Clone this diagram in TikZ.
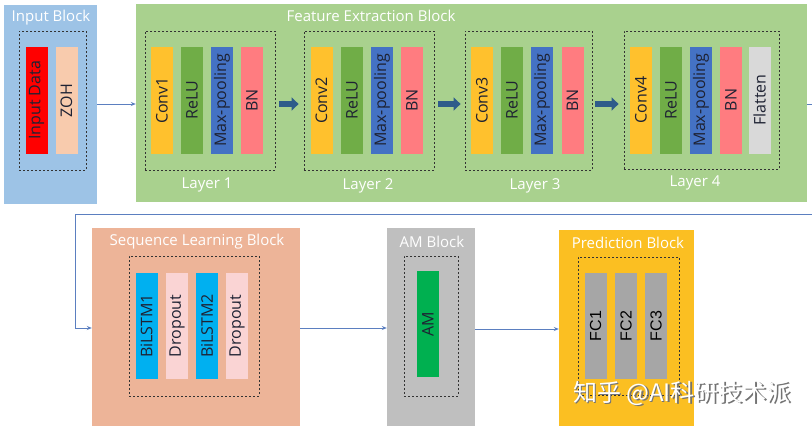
\documentclass[tikz,border=0pt]{standalone}
\usepackage{fontspec}
\setmainfont{Open Sans}
\newfontfamily\cjkfont{Noto Sans CJK SC}
\newfontfamily\fcfont{Liberation Sans}
\usetikzlibrary{arrows.meta}
\definecolor{inblue}{HTML}{9DC3E6}
\definecolor{fegreen}{HTML}{A9D18E}
\definecolor{convY}{HTML}{FFC12D}
\definecolor{reluG}{HTML}{70AD47}
\definecolor{maxB}{HTML}{4472C4}
\definecolor{bnR}{HTML}{FF7C80}
\definecolor{flatG}{HTML}{D9D9D9}
\definecolor{zohP}{HTML}{F8CBAD}
\definecolor{seqS}{HTML}{EDB498}
\definecolor{amG}{HTML}{BFBFBF}
\definecolor{predY}{HTML}{FBBF22}
\definecolor{lstmB}{HTML}{00B0F0}
\definecolor{dropP}{HTML}{FAD4D4}
\definecolor{amBar}{HTML}{00B050}
\definecolor{fcG}{HTML}{A6A6A6}
\definecolor{lineB}{HTML}{5B7FC0}
\definecolor{fatB}{HTML}{2E5C8A}
\definecolor{txt}{HTML}{1E2233}
\tikzset{
  block/.style={fill=#1, draw=none, inner sep=0},
  title/.style={text=white, font=\fontsize{15}{17}\selectfont, inner sep=0},
  dbox/.style={draw=black!80, dashed, line width=0.8pt, dash pattern=on 2pt off 2pt, inner sep=0},
  bar/.style={fill=#1, rotate=90, minimum width=107pt, minimum height=22pt, inner sep=0, text=txt, font=\fontsize{16}{18}\selectfont},
  lay/.style={text=white, font=\fontsize{15}{17}\selectfont, inner sep=0},
  conn/.style={draw=lineB, line width=0.8pt, -{Stealth[length=5pt,width=4pt]}},
  fat/.style={draw=fatB, line width=6pt, -{Triangle[length=7pt,width=13pt]}},
}
\begin{document}
\begin{tikzpicture}[x=1pt,y=-1pt]
\useasboundingbox (0,0) rectangle (812,426);
\fill[white] (0,0) rectangle (812,426);
% ---- Input block
\node[block=inblue, minimum width=93pt, minimum height=199pt] (inb) at (50.5,104.5) {};
\node[title] (inbt) at (51,18) {Input Block};
\node[dbox, minimum width=67pt, minimum height=139pt] (inbd) at (52.5,100.5) {};
\node[bar=red] (indata) at (36.5,100.5) {Input Data};
\node[bar=zohP] (zoh) at (66.5,100.5) {ZOH};
% ---- Feature extraction block
\node[block=fegreen, minimum width=671pt, minimum height=198pt] (feb) at (471.5,103) {};
\node[title] (febt) at (371,16) {Feature Extraction Block};
% layer 1
\node[dbox, minimum width=130pt, minimum height=139pt] (l1) at (210,100.5) {};
\node[bar=convY] (c1) at (162,100.5) {Conv1};
\node[bar=reluG] (r1) at (192,100.5) {ReLU};
\node[bar=maxB] (m1) at (222,100.5) {Max-pooling};
\node[bar=bnR] (b1) at (252,100.5) {BN};
\node[lay] (l1t) at (207,185) {Layer 1};
% layer 2
\node[dbox, minimum width=130pt, minimum height=139pt] (l2) at (369,100.5) {};
\node[bar=convY] (c2) at (321.5,100.5) {Conv2};
\node[bar=reluG] (r2) at (352,100.5) {ReLU};
\node[bar=maxB] (m2) at (382,100.5) {Max-pooling};
\node[bar=bnR] (b2) at (412,100.5) {BN};
\node[lay] (l2t) at (368,186) {Layer 2};
% layer 3
\node[dbox, minimum width=127pt, minimum height=139pt] (l3) at (528.5,100.5) {};
\node[bar=convY] (c3) at (482,100.5) {Conv3};
\node[bar=reluG] (r3) at (512,100.5) {ReLU};
\node[bar=maxB] (m3) at (542,100.5) {Max-pooling};
\node[bar=bnR] (b3) at (572.5,100.5) {BN};
\node[lay] (l3t) at (535,186) {Layer 3};
% layer 4
\node[dbox, minimum width=155pt, minimum height=138pt] (l4) at (701.5,100) {};
\node[bar=convY] (c4) at (641,100) {Conv4};
\node[bar=reluG] (r4) at (671,100) {ReLU};
\node[bar=maxB] (m4) at (701,100) {Max-pooling};
\node[bar=bnR] (b4) at (731,100) {BN};
\node[bar=flatG] (f4) at (759.5,100) {Flatten};
\node[lay] (l4t) at (695,183) {Layer 4};
% fat arrows
\draw[fat] ([xshift=4pt]l1.east |- 0,104) -- ([xshift=-5pt]l2.west |- 0,104);
\draw[fat] ([xshift=4pt]l2.east |- 0,104) -- ([xshift=-4pt]l3.west |- 0,104);
\draw[fat] ([xshift=3pt]l3.east |- 0,104) -- ([xshift=-5pt]l4.west |- 0,104);
% ---- Sequence learning block
\node[block=seqS, minimum width=208pt, minimum height=202pt] (seq) at (196,329) {};
\node[title] (seqt) at (197,242) {Sequence Learning Block};
\node[dbox, minimum width=130pt, minimum height=140pt] (seqd) at (194,326) {};
\node[bar=lstmB, minimum width=106pt] (ls1) at (146.5,326) {BiLSTM1};
\node[bar=dropP, minimum width=106pt] (dp1) at (177,326) {Dropout};
\node[bar=lstmB, minimum width=106pt] (ls2) at (207,326) {BiLSTM2};
\node[bar=dropP, minimum width=106pt] (dp2) at (237,326) {Dropout};
% ---- AM block
\node[block=amG, minimum width=88pt, minimum height=200pt] (amb) at (431,328) {};
\node[title] (ambt) at (432,242) {AM Block};
\node[dbox, minimum width=54pt, minimum height=140pt] (amd) at (431,326) {};
\node[bar=amBar, minimum width=106pt] (am) at (428,324) {AM};
% ---- Prediction block
\node[block=predY, minimum width=135pt, minimum height=198pt] (pred) at (626.5,329) {};
\node[title] (predt) at (628,243) {Prediction Block};
\node[dbox, minimum width=101pt, minimum height=138pt] (predd) at (628.5,326) {};
\node[bar=fcG, minimum width=106pt, text=black, font=\fcfont\fontsize{16}{18}\selectfont] (fc1) at (595.5,326) {FC1};
\node[bar=fcG, minimum width=106pt, text=black, font=\fcfont\fontsize{16}{18}\selectfont] (fc2) at (626,326) {FC2};
\node[bar=fcG, minimum width=106pt, text=black, font=\fcfont\fontsize{16}{18}\selectfont] (fc3) at (656,326) {FC3};
% ---- connectors
\draw[conn] (inb.east |- 0,104) -- (feb.west |- 0,104);
\coordinate (fr1) at (818,104);
\coordinate (fr2) at (818,214);
\coordinate (fl1) at (75,214);
\coordinate (fl2) at (75,328);
\draw[conn] (feb.east |- 0,104) -- (fr1) -- (fr2) -- (fl1) -- (fl2) -- (seq.west |- 0,328);
\draw[conn] (seq.east |- 0,328) -- (amb.west |- 0,328);
\draw[conn] (amb.east |- 0,329) -- (pred.west |- 0,329);
% ---- watermark
\node[text=black!55, font=\cjkfont\fontsize{24}{26}\selectfont, inner sep=0] (wms) at (683.5,394.5) {知乎 @AI科研技术派};
\node[text=white, font=\cjkfont\fontsize{24}{26}\selectfont, inner sep=0] (wm) at (682,393) {知乎 @AI科研技术派};
\end{tikzpicture}
\end{document}
